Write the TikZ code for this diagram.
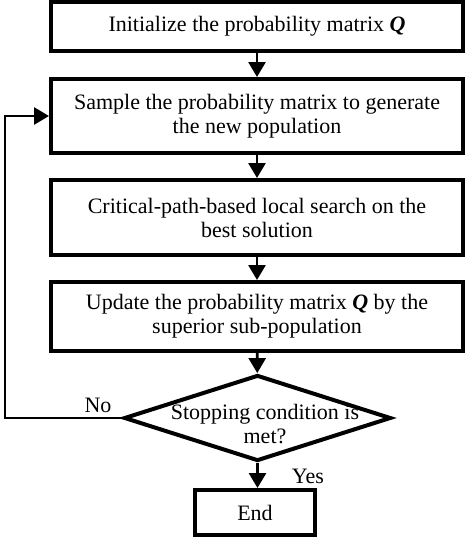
\documentclass[tikz,border=0pt]{standalone}
\usepackage{fontspec}
\setmainfont{Liberation Serif}
\usetikzlibrary{positioning}
\usetikzlibrary{arrows.meta}
\usetikzlibrary{shapes.geometric}

\begin{document}
\begin{tikzpicture}[x=1pt, y=-1pt, node distance=2pt,
  box/.style={draw, line width=4pt, align=center, inner sep=0pt,
    minimum width=#1, font=\fontsize{22}{24}\selectfont},
  box/.default=412pt,
  decision/.style={draw, diamond, line width=4pt, inner sep=0pt,
    minimum width=267pt, minimum height=86pt},
  txt/.style={align=center, inner sep=0pt, font=\fontsize{22}{24}\selectfont},
  flow/.style={line width=2.8pt, -{Triangle[length=15pt,width=17pt]}}]

\useasboundingbox (0,0) rectangle (466,538);

\node [box, minimum height=49pt] (init) at (257,26.5)
  {Initialize the probability matrix \textbf{\textit{Q}}};
\node [box, minimum height=74pt] (sample) at (257,116)
  {Sample the probability matrix to generate\\the new population};
\node [box, minimum height=75pt] (search) at (257,217.5)
  {Critical-path-based local search on the\\best solution};
\node [box, minimum height=69pt] (update) at (257,316.5)
  {Update the probability matrix \textbf{\textit{Q}} by the\\superior sub-population};

\node [decision] (stop) at (257.5,418) {};
\node [txt] (stoptxt) at (265,424) {Stopping condition is\\met?};

\node [box=120pt, minimum height=45pt] (end) at (255,512.5) {End};

% labels of the two exits
\coordinate (no) at (98,405);
\node [txt] at (no) {No};
\coordinate (yes) at (308,476);
\node [txt] at (yes) {Yes};

\draw [flow] (init) -- (sample);
\draw [flow] (sample) -- (search);
\draw [flow] (search) -- (update);
\draw [flow] (update) -- (stop);
\draw [flow] (stop.south) -- (stop.south |- end.north);

% loop back when not finished
\coordinate (back) at (5,418);
\draw [flow] (stop.west) -- (back) |- (sample.west);

\end{tikzpicture}
\end{document}
